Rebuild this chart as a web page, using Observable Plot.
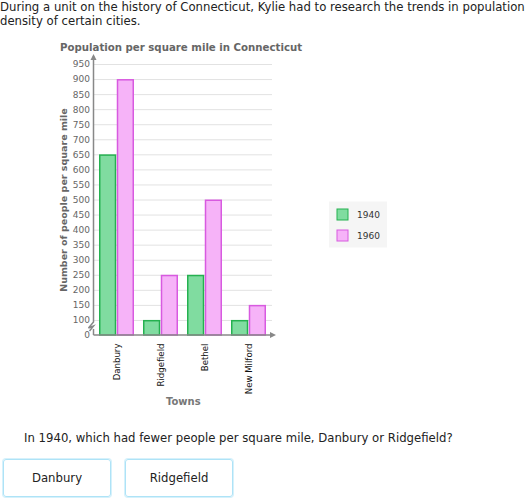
<!DOCTYPE html>
<html>
<head>
<meta charset="utf-8">
<script src="https://cdn.jsdelivr.net/npm/d3@7"></script>
<script src="https://cdn.jsdelivr.net/npm/@observablehq/plot@0.6"></script>
<style>
  html, body { margin: 0; padding: 0; background: #fff; }
  body { width: 532px; height: 499px; position: relative; overflow: hidden; font-family: Verdana, "DejaVu Sans", sans-serif; color: #222; }
  #intro { position: absolute; left: 0; top: 0; width: 532px; font-size: 11.7px; line-height: 14px; }
  #chart { position: absolute; left: 0; top: 40px; }
  #question { position: absolute; left: 24px; top: 431px; font-size: 11.7px; }
  .btn { position: absolute; top: 459px; height: 36px; width: 106px; border: 1px solid #aee3f7; border-radius: 3px; box-shadow: 0 0 0 1px #d6f1fb; font-size: 11.7px; display: flex; align-items: center; justify-content: center; }
</style>
</head>
<body>
<div id="intro">During a unit on the history of Connecticut, Kylie had to research the trends in population density of certain cities.</div>
<div id="chart"></div>
<div id="question">In 1940, which had fewer people per square mile, Danbury or Ridgefield?</div>
<div class="btn" style="left:3px">Danbury</div>
<div class="btn" style="left:125px">Ridgefield</div>
<script>
const towns = ["Danbury", "Ridgefield", "Bethel", "New Milford"];
const years = ["1940", "1960"];
const pop1940 = [650, 100, 250, 100];
const pop1960 = [900, 250, 500, 150];
const yTicks = [50, 100, 150, 200, 250, 300, 350, 400, 450, 500, 550, 600, 650, 700, 750, 800, 850, 900, 950];
const colors = {"1940": {fill: "#80dca0", stroke: "#25b150"}, "1960": {fill: "#f6b3f8", stroke: "#d85ae0"}};

const BASE = 50; // broken axis: the "0" label sits at the 50 position
const rows1940 = towns.map((t, i) => ({town: t, year: "1940", value: pop1940[i]}));
const rows1960 = towns.map((t, i) => ({town: t, year: "1960", value: pop1960[i]}));

const chart = Plot.plot({
  width: 532,
  height: 370,
  marginLeft: 93.5,
  marginRight: 260,
  marginTop: 24,
  marginBottom: 75,
  style: {fontFamily: "Verdana, 'DejaVu Sans', sans-serif", fontSize: "10px", color: "#666", background: "transparent", overflow: "visible"},
  x: {domain: towns, paddingInner: 0.207, paddingOuter: 0.125, label: null},
  y: {domain: [BASE, 950], label: null},
  marks: [
    Plot.ruleY(yTicks.filter(d => d > BASE), {y: d => d, stroke: "#e2e2e2", strokeWidth: 1, strokeOpacity: 1}),
    Plot.barY(rows1940, {x: "town", y1: BASE, y2: "value", fill: colors["1940"].fill, stroke: colors["1940"].stroke, strokeWidth: 1.5, insetRight: 18.5, insetLeft: 0.75, insetTop: 0.75}),
    Plot.barY(rows1960, {x: "town", y1: BASE, y2: "value", fill: colors["1960"].fill, stroke: colors["1960"].stroke, strokeWidth: 1.5, insetLeft: 18.5, insetRight: 0.75, insetTop: 0.75}),
    Plot.axisY({ticks: yTicks, tickFormat: d => d === BASE ? "0" : String(d), tickSize: 0, tickPadding: 4, fill: "#666", fontSize: 9}),
    Plot.axisX({tickSize: 0, tickPadding: 8, tickRotate: -90, fill: "#111", fontSize: 8.6}),
    Plot.text(["Towns"], {frameAnchor: "bottom", dy: 69, textAnchor: "middle", fontWeight: "bold", fill: "#777", fontSize: 10}),
    Plot.text(["Number of people per square mile"], {frameAnchor: "left", dx: -30, textAnchor: "middle", rotate: -90, fontWeight: "bold", fill: "#666", fontSize: 9.5})
  ]
});

const svg = d3.select(chart);
const ys = chart.scale("y");
const xs = chart.scale("x");
const y0 = ys.apply(BASE);
const yTop = ys.apply(950);
const xL = 93.5;
const xR = xs.apply(towns[towns.length - 1]) + xs.bandwidth + 8;
const g = svg.append("g").attr("fill", "none").attr("stroke", "#888").attr("stroke-width", 1.5);
const yBreak = ys.apply(100);
// y axis with arrow and break mark
g.append("path").attr("d", `M${xL},${yTop - 8}V${yBreak + 2}L${xL - 5},${yBreak + 8}L${xL},${yBreak + 6}L${xL - 4},${yBreak + 11}`);
g.append("path").attr("d", `M${xL},${yBreak + 9}V${y0}`);
svg.append("path").attr("d", `M${xL},${yTop - 10}l-3,6h6z`).attr("fill", "#888");
// x axis with arrow
g.append("path").attr("d", `M${xL},${y0}H${xR - 2}`);
svg.append("path").attr("d", `M${xR + 2},${y0}l-6,-3v6z`).attr("fill", "#888");
// title
svg.append("text").attr("x", 60).attr("y", 11).attr("text-anchor", "start").attr("font-weight", "bold").attr("font-size", 10.2).attr("fill", "#666").text("Population per square mile in Connecticut");
// legend
const lg = svg.append("g").attr("transform", "translate(329,161.5)");
lg.append("rect").attr("width", 58).attr("height", 46).attr("fill", "#f5f5f5");
years.forEach((yr, i) => {
  lg.append("rect").attr("x", 8).attr("y", 7.5 + i * 21).attr("width", 11).attr("height", 11).attr("fill", colors[yr].fill).attr("stroke", colors[yr].stroke).attr("stroke-width", 1);
  lg.append("text").attr("x", 28).attr("y", 13 + i * 21).attr("dy", "0.35em").attr("text-anchor", "start").attr("font-size", 9).attr("fill", "#333").text(yr);
});
document.getElementById("chart").appendChild(chart);
</script>
</body>
</html>
